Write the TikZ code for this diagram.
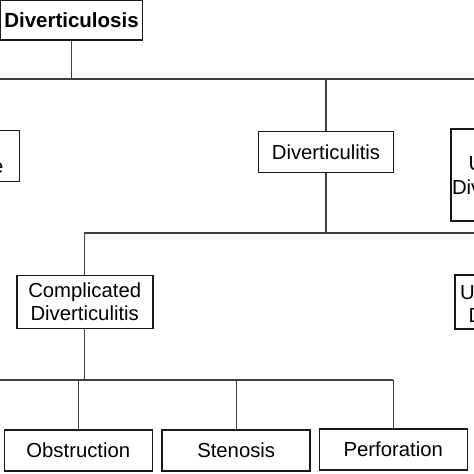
\documentclass[tikz,border=0pt]{standalone}
\usepackage{fontspec}
\setmainfont{Liberation Sans}
\tikzset{
  box/.style={draw=black!90, line width=1.6pt, inner sep=0pt, align=center,
    font=\fontsize{20.3}{23}\selectfont},
  frag/.style={inner sep=0pt, font=\fontsize{20.3}{23}\selectfont},
  link/.style={draw=black!75, line width=1.2pt}
}
\begin{document}
\begin{tikzpicture}[x=1pt,y=-1pt]
  % fix the page and cut the picture at its edges
  \useasboundingbox (0,0) rectangle (474,474);
  \clip (0,0) rectangle (474,474);

  % add in the boxes
  \node[box, minimum width=142pt, minimum height=40pt,
    font=\fontsize{20.5}{23}\selectfont\bfseries] (dosis) at (71.5,20) {Diverticulosis};
  \node[box, minimum width=139pt, minimum height=51pt] (lbox) at (-50,156) {};
  \node[box, minimum width=135pt, minimum height=41pt] (ditis) at (326,152) {Diverticulitis};
  \node[box, minimum width=140pt, minimum height=92pt] (rbox) at (521,175) {};
  \node[box, minimum width=136pt, minimum height=53pt] (cplx) at (84.7,302) {Complicated\\Diverticulitis};
  \node[box, minimum width=140pt, minimum height=54pt] (ubox) at (525,302) {};
  \node[box, minimum width=148pt, minimum height=41pt] (obs) at (78.3,450.5) {Obstruction};
  \node[box, minimum width=148pt, minimum height=41pt] (sten) at (236.2,450.5) {Stenosis};
  \node[box, minimum width=148pt, minimum height=41pt] (perf) at (393.3,449.5) {Perforation};

  % texts of the boxes cut by the edges
  \node[frag, anchor=base east] (lboxe) at (3.5,173) {e};
  \node[frag, anchor=base west] (rboxu) at (468.5,170.5) {U};
  \node[frag, anchor=base west] (rboxd) at (451.8,194) {Div};
  \node[frag, anchor=base west] (uboxu) at (460,299.3) {U};
  \node[frag, anchor=base west] (uboxd) at (468.5,322.5) {D};

  % the bus lines
  \coordinate (busa) at (0,79);
  \coordinate (busb) at (84.3,233);
  \coordinate (busc) at (0,380);

  % draw the connectors
  \draw[link] (dosis.south) -- (dosis.south |- busa);
  \draw[link] (busa) -- (474,79);
  \draw[link] (busa -| ditis) -- (ditis.north);
  \draw[link] (ditis.south) -- (ditis.south |- busb);
  \draw[link] (busb) -- (474,233);
  \draw[link] (busb) -- (busb |- cplx.north);
  \draw[link] (cplx.south) -- (cplx.south |- busc);
  \draw[link] (busc) -- (busc -| perf);
  \draw[link] (busc -| obs) -- (obs.north);
  \draw[link] (busc -| sten) -- (sten.north);
  \draw[link] (busc -| perf) -- (perf.north);
\end{tikzpicture}
\end{document}
